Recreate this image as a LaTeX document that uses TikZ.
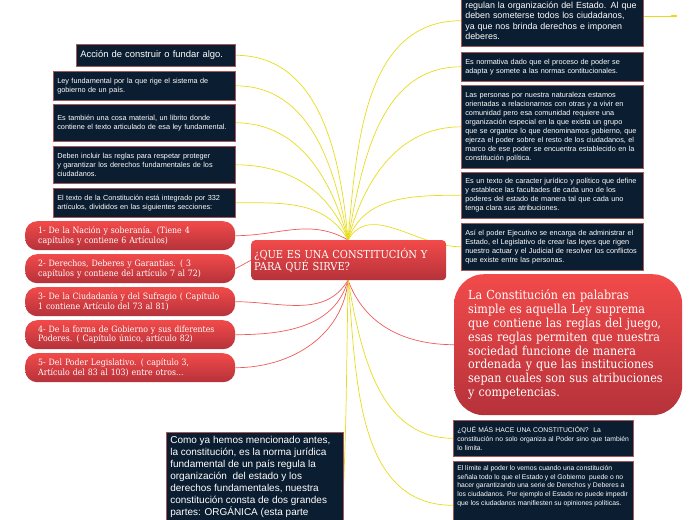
\documentclass[tikz,border=0pt]{standalone}
\usepackage{fontspec}
\setmainfont{Liberation Sans}
\newfontfamily\slab{DejaVu Serif Condensed}
\usetikzlibrary{backgrounds}
\hyphenpenalty=10000 \exhyphenpenalty=10000
\definecolor{navy}{HTML}{0B1D30}
\definecolor{edgeY}{HTML}{E8DC1A}
\definecolor{edgeR}{HTML}{F05A5A}
\definecolor{redT}{HTML}{F24A4A}
\definecolor{redB}{HTML}{B5323A}
\tikzset{
 dbox/.style={anchor=north west,draw=red!30!gray,line width=0.6pt,fill=navy,text=white,align=left,inner xsep=4pt,inner ysep=2pt,font=\fontsize{7.3}{9}\selectfont},
 rbox/.style={anchor=north west,rounded corners=12pt,top color=redT,bottom color=redB,draw=none,text=white,align=left,font=\slab\fontsize{8.7}{9.6}\selectfont},
 ye/.style={draw=edgeY,line width=0.7pt},
 re/.style={draw=edgeR,line width=0.7pt},
}
\begin{document}
\begin{tikzpicture}[x=1pt,y=-1pt]
\useasboundingbox (0,0) rectangle (697,520);
% left dark
\node[dbox,text width=151,minimum height=22,font=\fontsize{9.4}{11}\selectfont] (a) at (76,44) {Acción de construir o fundar algo.};
\node[dbox,text width=174,minimum height=29] (b) at (53,71) {Ley fundamental por la que rige el sistema de gobierno de un país.};
\node[dbox,text width=174,minimum height=37] (c) at (53,104) {Es también una cosa material, un librito donde contiene el texto articulado de esa ley fundamental.};
\node[dbox,text width=174,minimum height=37] (d) at (53,146) {Deben incluir las reglas para respetar proteger y garantizar los derechos fundamentales de los ciudadanos.};
\node[dbox,text width=174,minimum height=29] (e) at (53,188) {El texto de la Constitución está integrado por 332 artículos, divididos en las siguientes secciones:};
% left red
\node[rbox,text width=184,minimum height=29,inner xsep=13pt] (r1) at (25,221) {1- De la Nación y soberanía. (Tiene 4 capítulos y contiene 6 Artículos)};
\node[rbox,text width=184,minimum height=29,inner xsep=13pt] (r2) at (25,254) {2- Derechos, Deberes y Garantías. ( 3 capítulos y contiene del artículo 7 al 72)};
\node[rbox,text width=184,minimum height=29,inner xsep=13pt] (r3) at (25,287) {3- De la Ciudadanía y del Sufragio ( Capítulo 1 contiene Artículo del 73 al 81)};
\node[rbox,text width=184,minimum height=29,inner xsep=13pt] (r4) at (25,320) {4- De la forma de Gobierno y sus diferentes Poderes. ( Capítulo único, artículo 82)};
\node[rbox,text width=184,minimum height=29,inner xsep=13pt] (r5) at (25,353) {5- Del Poder Legislativo. ( capítulo 3, Artículo del 83 al 103) entre otros...};
% center
\node[rbox,rounded corners=4pt,text width=189,minimum height=40,inner xsep=3pt,font=\slab\fontsize{11}{12.8}\selectfont] (cen) at (251,240) {¿QUE ES UNA CONSTITUCIÓN Y PARA QUÉ SIRVE?};
\coordinate (ct) at (348,240);
\coordinate (cb) at (348,280);
% right dark
\node[dbox,anchor=south west,text width=174,minimum height=52,font=\fontsize{8.9}{10.6}\selectfont] (f) at (461,47) {regulan la organización del Estado. Al que deben someterse todos los ciudadanos, ya que nos brinda derechos e imponen deberes.};
\coordinate (fx) at (677,16);
\node[dbox,text width=174,minimum height=29] (g) at (461,52) {Es normativa dado que el proceso de poder se adapta y somete a las normas contitucionales.};
\node[dbox,text width=174,minimum height=83] (h) at (461,85) {Las personas por nuestra naturaleza estamos orientadas a relacionarnos con otras y a vivir en comunidad pero esa comunidad requiere una organización especial en la que exista un grupo que se organice lo que denominamos gobierno, que ejerza el poder sobre el resto de los ciudadanos, el marco de ese poder se encuentra establecido en la constitución política.};
\node[dbox,text width=174,minimum height=46] (i) at (461,172) {Es un texto de caracter jurídico y político que define y establece las facultades de cada uno de los poderes del estado de manera tal que cada uno tenga clara sus atribuciones.};
\node[dbox,text width=174,minimum height=47] (j) at (461,223) {Así el poder Ejecutivo se encarga de administrar el Estado, el Legislativo de crear las leyes que rigen nuestro actuar y el Judicial de resolver los conflictos que existe entre las personas.};
\node[rbox,rounded corners=30pt,text width=200,minimum height=141,inner xsep=14pt,font=\slab\fontsize{12.4}{13.8}\selectfont] (k) at (454,274) {La Constitución en palabras simple es aquella Ley suprema que contiene las reglas del juego, esas reglas permiten que nuestra sociedad funcione de manera ordenada y que las instituciones sepan cuales son sus atribuciones y competencias.};
\node[dbox,text width=172,minimum height=36,font=\fontsize{6.8}{8.8}\selectfont] (l) at (453,420) {¿QUÉ MÁS HACE UNA CONSTITUCIÓN? \ La constitución no solo organiza al Poder sino que también lo limita.};
\node[dbox,inner ysep=4pt,font=\fontsize{6.8}{8.8}\selectfont] (m) at (453,461) {\parbox[t][80pt][t]{172pt}{\raggedright El límite al poder lo vemos cuando una constitución señala todo lo que el Estado y el Gobierno \ puede o no hacer garantizando una serie de Derechos y Deberes a los ciudadanos. Por ejemplo el Estado no puede impedir que los ciudadanos manifiesten su opiniones políticas.}};
\node[dbox,inner ysep=4pt,font=\fontsize{10}{12}\selectfont] (n) at (166,432) {\parbox[t][100pt][t]{169pt}{\raggedright Como ya hemos mencionado antes, la constitución, es la norma jurídica fundamental de un país regula la organización \ del estado y los derechos fundamentales, nuestra constitución consta de dos grandes partes: ORGÁNICA (esta parte}};
\begin{scope}[on background layer]
\draw[ye] (a.east) to[out=0,in=95] (ct);
\draw[ye] (b.east) to[out=0,in=100] (ct);
\draw[ye] (c.east) to[out=0,in=105] (ct);
\draw[ye] (d.east) to[out=0,in=110] (ct);
\draw[ye] (e.east) to[out=0,in=120] (ct);
\draw[re] (r1.east) to[out=0,in=150] (ct);
\draw[re] (r2.east) -- (cen.west);
\draw[re] (r3.east) to[out=0,in=-120] (cb);
\draw[re] (r4.east) to[out=0,in=-105] (cb);
\draw[re] (r5.east) to[out=0,in=-95] (cb);
\draw[ye] (ct) to[out=85,in=180] (f.west);
\draw[ye] (f.east |- fx) -- (fx);
\draw[edgeY,line width=2pt] ([xshift=-6]fx) -- (fx);
\draw[ye] (ct) to[out=80,in=180] (g.west);
\draw[ye] (ct) to[out=75,in=180] (h.west);
\draw[ye] (ct) to[out=70,in=180] (i.west);
\draw[ye] (ct) to[out=60,in=180] (j.west);
\draw[re] (cb) to[out=-70,in=180] (k.west);
\draw[ye] (cb) to[out=-80,in=180] (l.west);
\draw[ye] (cb) to[out=-85,in=180] (m.west);
\draw[ye] (cb) .. controls (346,420) .. (n.east);
\end{scope}
\end{tikzpicture}
\end{document}
